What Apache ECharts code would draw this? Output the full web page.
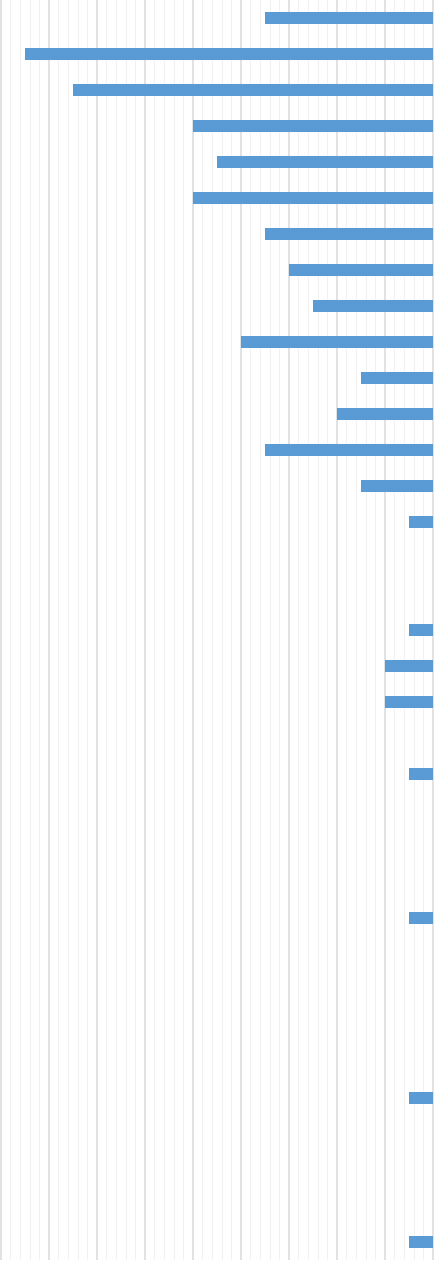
<!DOCTYPE html>
<html><head><meta charset="utf-8">
<script src="https://cdn.jsdelivr.net/npm/echarts@6/dist/echarts.min.js"></script>
<style>html,body{margin:0;padding:0;background:#fff}#c{width:435px;height:1261px}</style>
</head><body><div id="c"></div>
<script>
const categories = Array.from({length:35},(_,i)=>String(i+1));
const values = [7,17,15,10,9,10,7,6,5,8,3,4,7,3,1,0,0,1,2,2,0,1,0,0,0,1,0,0,0,0,1,0,0,0,1];
const xTicks = {min:0,max:18,interval:2};
const chart = echarts.init(document.getElementById('c'),null,{renderer:'canvas'});
chart.setOption({
  animation:false,
  grid:{left:1,right:2,top:0,bottom:1,containLabel:false},
  xAxis:{type:'value',inverse:true,min:xTicks.min,max:xTicks.max,interval:xTicks.interval,
    axisLabel:{show:false},axisLine:{show:false},axisTick:{show:false},
    splitLine:{show:true,lineStyle:{color:'#d9d9d9',width:1.5}},
    minorTick:{show:false,splitNumber:5},
    minorSplitLine:{show:true,lineStyle:{color:'#f0f0f0',width:1}}},
  yAxis:{type:'category',data:categories,inverse:true,position:'right',
    axisLabel:{show:false},axisLine:{show:false},axisTick:{show:false},splitLine:{show:false}},
  series:[{type:'bar',data:values,barWidth:12,itemStyle:{color:'#5b9bd5'}}]
});
</script></body></html>
